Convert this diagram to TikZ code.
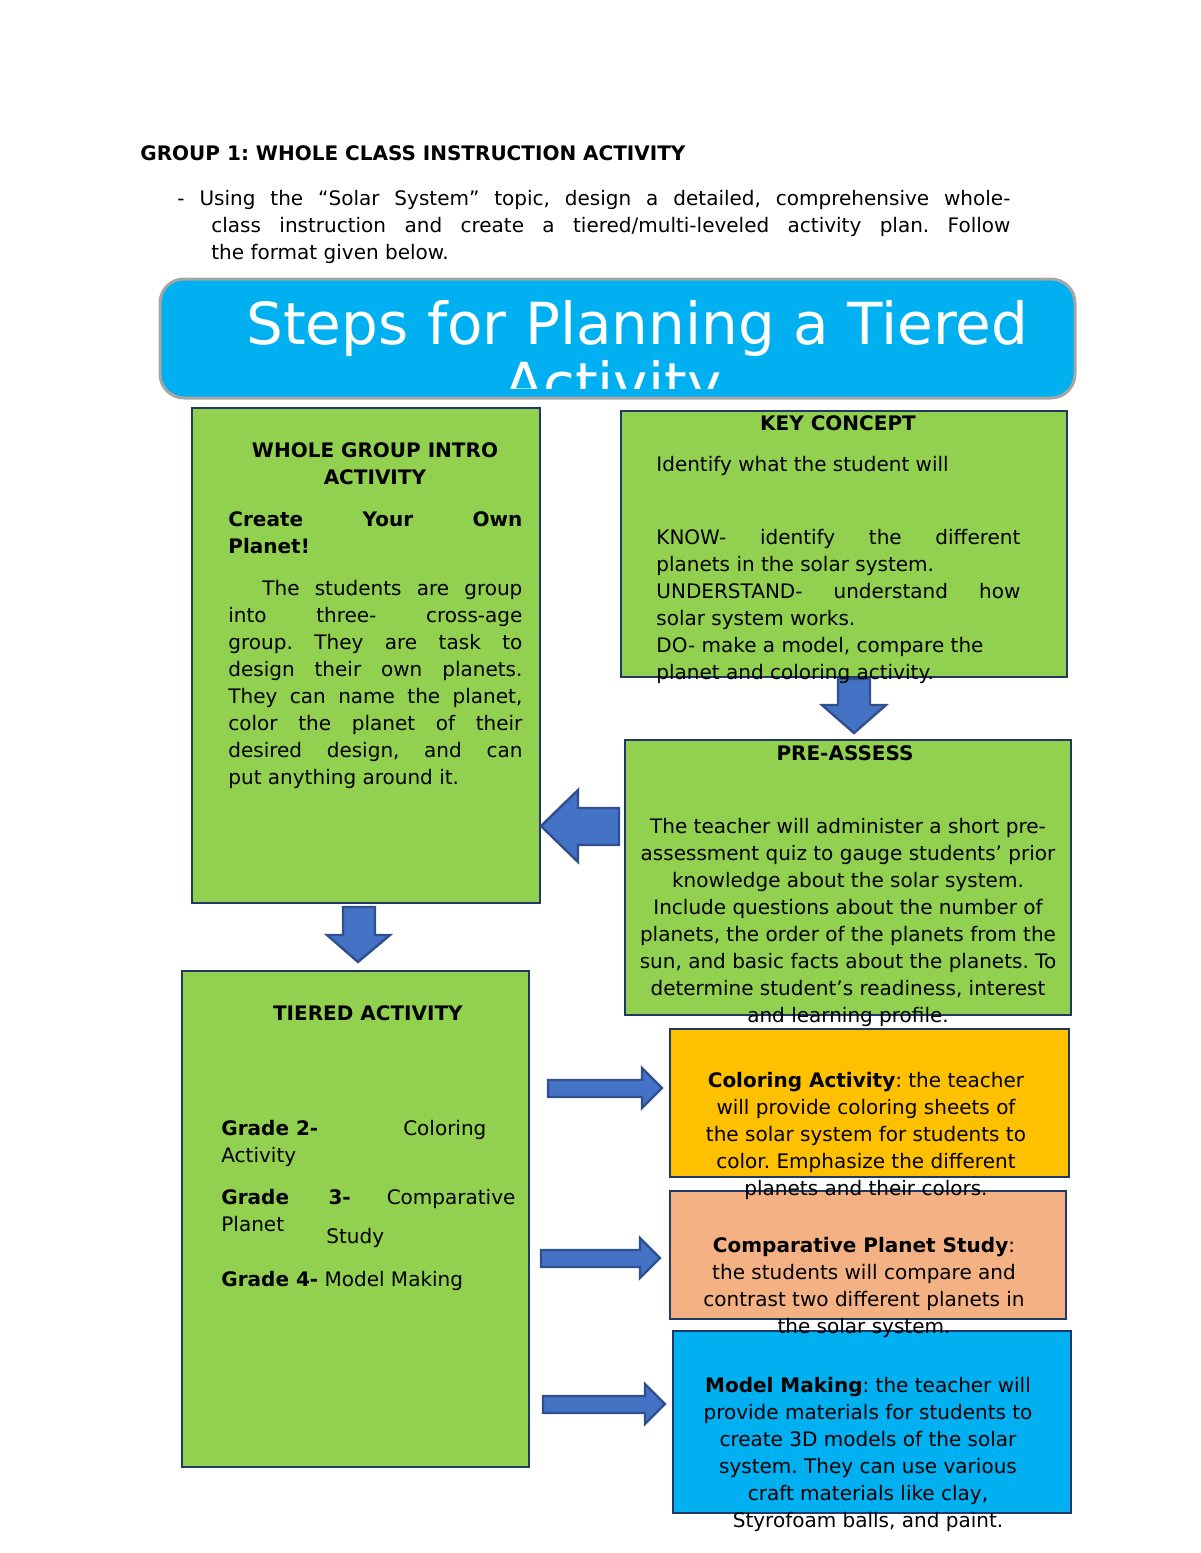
\documentclass[tikz,border=0pt]{standalone}
\usepackage{fontspec}
\setmainfont{DejaVu Sans}
\frenchspacing
\definecolor{grn}{HTML}{92D050}
\definecolor{edge}{HTML}{1F3864}
\definecolor{cyanb}{HTML}{00B0F0}
\definecolor{org}{HTML}{FFC000}
\definecolor{peach}{HTML}{F4B183}
\definecolor{arr}{HTML}{4472C4}
\definecolor{arrd}{HTML}{2F4F8F}
\begin{document}
\begin{tikzpicture}[x=0.5pt,y=-0.5pt,
  box/.style={draw=edge,line width=1.3pt},
  barrow/.style={fill=arr,draw=arrd,line width=1.2pt,line join=miter},
  txt/.style={inner sep=0,font=\fontsize{10}{13.5}\selectfont},
  lt/.style={txt,anchor=base west,align=left},
  ct/.style={txt,anchor=base,align=center},
  ltop/.style={txt,anchor=north west,align=left,yshift=-15*0.5pt},
  ctop/.style={txt,anchor=north,align=center,yshift=-15*0.5pt}]
\useasboundingbox (0,0) rectangle (1200,1553);
% header
\node[lt] (h1) at (140,160) {\textbf{GROUP 1: WHOLE CLASS INSTRUCTION ACTIVITY}};
\node[lt] (h2) at (177,205) {\makebox[416.5pt][s]{- Using the “Solar System” topic, design a detailed, comprehensive whole-}};
\node[lt] (h3) at (211,232) {\makebox[399.5pt][s]{class instruction and create a tiered/multi-leveled activity plan. Follow}};
\node[lt] (h4) at (211,259) {the format given below.};
% title
\draw[draw=gray!70,line width=1.5pt,fill=cyanb,rounded corners=12pt] (160,279) rectangle (1075,398);
\begin{scope}
\clip (162,281) rectangle (1073,388);
\node[lt,text=white,font=\fontsize{29}{29}\selectfont] (title) at (246,344) {Steps for Planning a Tiered};
\node[ct,text=white,font=\fontsize{29}{29}\selectfont] (title2) at (613,404) {Activity};
\end{scope}
% boxes
\draw[box,fill=grn] (192,408) rectangle (540,903);
\draw[box,fill=grn] (621,411) rectangle (1067,677);
\draw[box,fill=grn] (625,740) rectangle (1071,1015);
\draw[box,fill=grn] (182,971) rectangle (529,1467);
\draw[box,fill=org] (670,1029) rectangle (1069,1177);
\draw[box,fill=peach] (670,1191) rectangle (1066,1319);
\draw[box,fill=cyanb] (673,1331) rectangle (1071,1513);
% arrows
\draw[barrow] (838,679) -- (870,679) -- (870,705) -- (886,705) -- (854,733) -- (822,705) -- (838,705) -- cycle;
\draw[barrow] (343,907) -- (375,907) -- (375,935) -- (390,935) -- (358,962) -- (327,935) -- (343,935) -- cycle;
\draw[barrow] (619,808) -- (578,808) -- (578,790) -- (541,826) -- (578,862) -- (578,845) -- (619,845) -- cycle;
\draw[barrow] (548,1080) -- (642,1080) -- (642,1068) -- (662,1088) -- (642,1108) -- (642,1097) -- (548,1097) -- cycle;
\draw[barrow] (541,1250) -- (640,1250) -- (640,1238) -- (660,1258) -- (640,1278) -- (640,1267) -- (541,1267) -- cycle;
\draw[barrow] (543,1396) -- (645,1396) -- (645,1384) -- (665,1404) -- (645,1424) -- (645,1413) -- (543,1413) -- cycle;
% whole group
\node[ctop] (wg) at (375,427) {\textbf{WHOLE GROUP INTRO}\\\textbf{ACTIVITY}};
\node[ltop] (wg2) at (228,496) {\makebox[147pt][s]{\textbf{Create Your Own}}\\\textbf{Planet!}};
\node[ltop] (wg3) at (228,565) {\makebox[147pt][s]{\hspace{17pt}The students are group}\\
\makebox[147pt][s]{into three- cross-age}\\
\makebox[147pt][s]{group. They are task to}\\
\makebox[147pt][s]{design their own planets.}\\
\makebox[147pt][s]{They can name the planet,}\\
\makebox[147pt][s]{color the planet of their}\\
\makebox[147pt][s]{desired design, and can}\\
put anything around it.};
% key concept
\node[ct] (kc) at (838,430) {\textbf{KEY CONCEPT}};
\node[lt] (kc1) at (656,471) {Identify what the student will};
\node[ltop] (kc2) at (656,514) {\makebox[182pt][s]{KNOW- identify the different}\\
planets in the solar system.\\
\makebox[182pt][s]{UNDERSTAND- understand how}\\
solar system works.\\
DO- make a model, compare the\\
planet and coloring activity.};
% pre-assess
\node[ct] (pa) at (845,760) {\textbf{PRE-ASSESS}};
\node[ctop] (pa2) at (848,803) {The teacher will administer a short pre-\\
assessment quiz to gauge students' prior\\
knowledge about the solar system.\\
Include questions about the number of\\
planets, the order of the planets from the\\
sun, and basic facts about the planets. To\\
determine student’s readiness, interest\\
and learning profile.};
% tiered
\node[ct] (ta) at (368,1020) {\textbf{TIERED ACTIVITY}};
\node[ltop] (g2) at (221,1105) {\makebox[132.5pt]{\textbf{Grade 2-}\hfill Coloring}\\Activity};
\node[ltop] (g3) at (221,1174) {\makebox[147pt][s]{\textbf{Grade 3-} Comparative}\\Planet};
\node[lt] (g3b) at (326,1243) {Study};
\node[lt] (g4) at (221,1286) {\textbf{Grade 4-} Model Making};
% right boxes
\node[ctop] (ca) at (866,1057) {\textbf{Coloring Activity}: the teacher\\
will provide coloring sheets of\\
the solar system for students to\\
color. Emphasize the different\\
planets and their colors.};
\node[ctop] (cp) at (864,1222) {\textbf{Comparative Planet Study}:\\
the students will compare and\\
contrast two different planets in\\
the solar system.};
\node[ctop] (mm) at (868,1362) {\textbf{Model Making}: the teacher will\\
provide materials for students to\\
create 3D models of the solar\\
system. They can use various\\
craft materials like clay,\\
Styrofoam balls, and paint.};
\end{tikzpicture}
\end{document}
